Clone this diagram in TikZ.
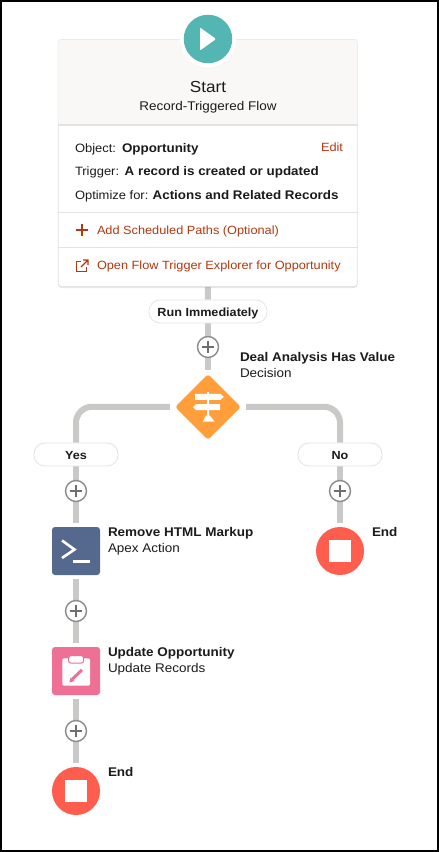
\documentclass[tikz,border=0pt]{standalone}
\usepackage{fontspec}
\setmainfont[FakeStretch=1.07]{Liberation Sans}
\usetikzlibrary{shapes.geometric,shadows,calc}
\pgfdeclarelayer{conn}
\pgfsetlayers{conn,main}
\definecolor{ink}{HTML}{1B1B1B}
\definecolor{rust}{HTML}{B5370F}
\definecolor{wire}{HTML}{C9C9C7}
\definecolor{rule}{HTML}{E3E3E3}
\definecolor{teal}{HTML}{54B6B3}
\definecolor{orng}{HTML}{FF9E3B}
\definecolor{slate}{HTML}{54698D}
\definecolor{pinkbox}{HTML}{EE7095}
\definecolor{coral}{HTML}{FF5D4D}
\definecolor{headbg}{HTML}{F9F8F6}
\definecolor{plusgray}{HTML}{8A8A8A}
\definecolor{plusdark}{HTML}{6E6E6E}
\tikzset{
  x=1pt,y=-1pt,
  wirepath/.style={draw=wire,line width=6pt,rounded corners=16pt},
  txt/.style={anchor=base west,inner sep=0pt,outer sep=0pt,text=ink,font=\fontsize{12.6}{14}\selectfont},
  ktxt/.style={txt,font=\fontsize{12.1}{14}\selectfont},
  btxt/.style={txt,font=\fontsize{12.6}{14}\selectfont\bfseries},
  cardb/.style={txt,font=\fontsize{12.5}{14}\selectfont\bfseries},
  link/.style={txt,text=rust,font=\fontsize{11.9}{14}\selectfont},
  pill/.style={draw=rule,fill=white,rounded corners=11pt,line width=.8pt,inner sep=0pt,text=ink,
    minimum height=23pt,text height=9pt,text depth=0pt,font=\fontsize{11.8}{14}\selectfont\bfseries},
  addbtn/.style={circle,draw=plusgray,fill=white,line width=1.4pt,minimum size=21pt,inner sep=0pt},
  iconbox/.style={rounded corners=3pt,minimum size=48pt,inner sep=0pt},
  endcirc/.style={circle,fill=coral,minimum size=48pt,inner sep=0pt},
  stopmark/.style={fill=white,minimum size=22pt,inner sep=0pt},
}
\newcommand{\plusmark}[1]{\draw[plusdark,line width=1.3pt] ($(#1)+(-6.3,0)$) -- ($(#1)+(6.3,0)$) ($(#1)+(0,-6.3)$) -- ($(#1)+(0,6.3)$);}
\begin{document}
\begin{tikzpicture}
\useasboundingbox (0,0) rectangle (439,852);
\begin{pgfonlayer}{conn}
\fill[white] (0,0) rectangle (439,852);
\end{pgfonlayer}
% card
\node[draw=rule,fill=white,rounded corners=3pt,line width=.8pt,minimum width=299pt,minimum height=247pt,inner sep=0pt,
  drop shadow={opacity=.18,shadow xshift=0pt,shadow yshift=-1.5pt}] (card) at (207.8,163) {};
\fill[headbg,rounded corners=3pt] ($(card.north west)+(.5,.5)$) -- ($(card.north east)+(-.5,.5)$) -- ($(card.north east)+(-.5,85.5)$) -- ($(card.north west)+(.5,85.5)$) -- cycle;
\draw[rule,line width=1.4pt] ($(card.north west)+(0,85.7)$) -- ($(card.north east)+(0,85.7)$);
\draw[rule,line width=.8pt] ($(card.north west)+(0,173)$) -- ($(card.north east)+(0,173)$);
\draw[rule,line width=.8pt] ($(card.north west)+(0,208)$) -- ($(card.north east)+(0,208)$);
% start
\node[circle,fill=white,minimum size=56pt,inner sep=0pt] (halo) at (208,39) {};
\node[circle,fill=teal,minimum size=48.5pt,inner sep=0pt] (start) at (208,39) {};
\fill[white,rounded corners=1pt] (200,27.5) -- (216,39) -- (200,50.5) -- cycle;
\node[txt,anchor=base,font=\fontsize{16}{18}\selectfont] (ttl) at (208,92) {Start};
\node[txt,anchor=base] (sub) at (208,110) {Record-Triggered Flow};
\node[ktxt] (objk) at (75,152) {Object:};
\node[cardb] (objv) at (122,152) {Opportunity};
\node[link,anchor=base east] (edit) at (343,151) {Edit};
\node[ktxt] (trgk) at (75,175) {Trigger:};
\node[cardb] (trgv) at (124.7,175) {A record is created or updated};
\node[ktxt] (optk) at (75,199) {Optimize for:};
\node[cardb] (optv) at (152.7,199) {Actions and Related Records};
\draw[rust,line width=1.3pt] (76,230) -- (88,230) (82,224) -- (82,236);
\node[link] (addp) at (97,234) {Add Scheduled Paths (Optional)};
\draw[rust,line width=1.3pt] (81,261.5) -- (76.5,261.5) -- (76.5,271.5) -- (86.5,271.5) -- (86.5,267);
\draw[rust,line width=1.3pt] (81,267) -- (88,260) (83,260) -- (88,260) -- (88,265);
\node[link] (openx) at (97,269) {Open Flow Trigger Explorer for Opportunity};
% flow nodes
\node[pill,minimum width=118pt] (run) at (208,311.5) {Run Immediately};
\node[addbtn] (add1) at (208,347) {}; \plusmark{add1}
\node[diamond,aspect=1,fill=orng,rounded corners=3pt,minimum width=66pt,minimum height=66pt,inner sep=0pt] (dec) at (208,407) {};
\fill[white] (195,393.8) -- (220.5,393.8) -- (223.8,396.8) -- (220.5,399.8) -- (195,399.8) -- cycle;
\fill[white] (196,404) -- (220,404) -- (220,410) -- (196,410) -- (193,407) -- cycle;
\fill[white] (207,391.8) rectangle (209,393.8) (207,399.8) rectangle (209,404) (207,410) rectangle (209,416);
\fill[white] (206,415.5) -- (210,415.5) -- (214.5,421.5) -- (202.8,421.5) -- cycle;
\node[btxt] (dect) at (240,361) {Deal Analysis Has Value};
\node[txt] (decs) at (240,377) {Decision};
\coordinate (lcorner) at (76,406.7);
\coordinate (rcorner) at (340,406.7);
\node[pill,minimum width=84pt] (yes) at (76,454.5) {Yes};
\node[pill,minimum width=84pt] (no) at (340,454.5) {No};
\node[addbtn] (add2) at (76,491) {}; \plusmark{add2}
\node[addbtn] (add3) at (340,491) {}; \plusmark{add3}
\node[iconbox,fill=slate] (apex) at (76,551) {};
\draw[white,line width=2.6pt] (62,540.5) -- (74.5,549.5) -- (62,558);
\draw[white,line width=2.6pt] (72.7,561.7) -- (90,561.7);
\node[btxt] (apext) at (108,536) {Remove HTML Markup};
\node[txt] (apexs) at (108,552) {Apex Action};
\node[endcirc] (end1) at (340,551) {};
\node[stopmark] (stop1) at (end1) {};
\node[btxt] (end1t) at (372,536) {End};
\node[addbtn] (add4) at (76,611) {}; \plusmark{add4}
\node[iconbox,fill=pinkbox] (upd) at (76,671) {};
\fill[white,rounded corners=2pt] (62.3,658.3) rectangle (90,685.7);
\fill[white,draw=pinkbox,line width=1pt,rounded corners=2pt] (68.7,655.7) rectangle (83.5,663);
\draw[pinkbox,line width=3pt] (72.5,679) -- (82,669.8);
\fill[pinkbox] (69.3,682.5) -- (70.7,677.3) -- (74.5,681) -- cycle;
\node[btxt] (updt) at (108,656) {Update Opportunity};
\node[txt] (upds) at (108,672) {Update Records};
\node[addbtn] (add5) at (76,731) {}; \plusmark{add5}
\node[endcirc] (end2) at (76,791) {};
\node[stopmark] (stop2) at (end2) {};
\node[btxt] (end2t) at (108,776) {End};
% connectors
\begin{pgfonlayer}{conn}
\draw[wirepath] (card.south) -- (run.north);
\draw[wirepath] (run.south) -- (add1.north);
\draw[wirepath,shorten >=4pt] (add1.south) -- (dec.north);
\draw[wirepath,shorten <=5pt] (dec.west) -- (lcorner) -- (yes.north);
\draw[wirepath,shorten <=5pt] (dec.east) -- (rcorner) -- (no.north);
\draw[wirepath] (yes.south) -- (add2.north);
\draw[wirepath] (no.south) -- (add3.north);
\draw[wirepath,shorten >=4pt] (add2.south) -- (apex.north);
\draw[wirepath,shorten >=4pt] (add3.south) -- (end1.north);
\draw[wirepath,shorten <=4pt] (apex.south) -- (add4.north);
\draw[wirepath,shorten >=4pt] (add4.south) -- (upd.north);
\draw[wirepath,shorten <=4pt] (upd.south) -- (add5.north);
\draw[wirepath,shorten >=4pt] (add5.south) -- (end2.north);
\end{pgfonlayer}
\draw[black,line width=2pt] (1,1) rectangle (438,851);
\end{tikzpicture}
\end{document}
